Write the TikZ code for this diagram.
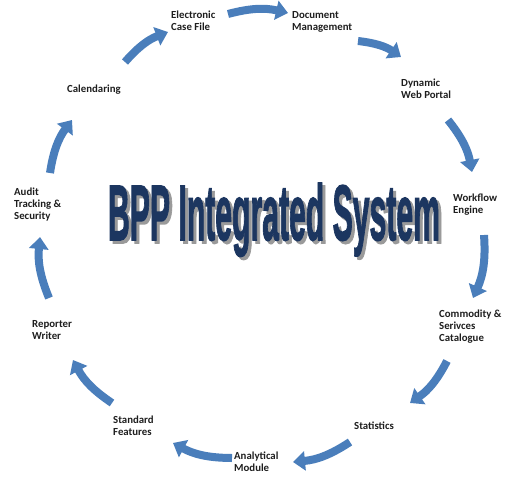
\documentclass[tikz,border=0pt]{standalone}
\usepackage{fontspec}
\setmainfont{Carlito}
\newfontfamily\titlefont{Liberation Sans Bold}[FakeBold=2]
\usetikzlibrary{arrows.meta}
\definecolor{arrowblue}{HTML}{4A7EBB}
\definecolor{titlenavy}{HTML}{1C3660}
\definecolor{titleshadow}{HTML}{9A9A9A}
\definecolor{labelgray}{HTML}{1E1E1E}
\tikzset{
  lbl/.style={anchor=base west, align=left, inner sep=0pt,
    font=\fontsize{10.8}{12}\selectfont\bfseries, text=labelgray},
  flow/.style={line width=8pt, draw=arrowblue,
    -{Triangle[width=19pt,length=12pt]}},
  titlenode/.style={anchor=base, inner sep=0pt},
}
\newcommand\mytitletext{\resizebox{332pt}{57pt}{\titlefont BPP Integrated System}}
\newcommand\mytitlewithshadow{\makebox[0pt][l]{\hspace{3pt}\raisebox{-3pt}{\color{titleshadow}\mytitletext}}{\color{titlenavy}\mytitletext}}
\begin{document}
\begin{tikzpicture}[x=1pt,y=1pt]
\useasboundingbox (0,0) rectangle (515,-480);
% title with drop shadow
\node[titlenode] (title) at (274,-240) {\mytitlewithshadow};
% labels (anchored at the baseline of the last line)
\node[lbl] (ecf) at (171,-30) {Electronic\\Case File};
\node[lbl] (dm) at (292,-30) {Document\\Management};
\node[lbl] (dwp) at (401,-98) {Dynamic\\Web Portal};
\node[lbl] (we) at (453,-213) {Workflow\\Engine};
\node[lbl] (csc) at (439,-341) {Commodity \&\\Serivces\\Catalogue};
\node[lbl] (stat) at (354,-429) {Statistics};
\node[lbl] (am) at (234,-471) {Analytical\\Module};
\node[lbl] (sf) at (113,-435) {Standard\\Features};
\node[lbl] (rw) at (32,-339) {Reporter\\Writer};
\node[lbl] (ats) at (14,-219) {Audit\\Tracking \&\\Security};
\node[lbl] (cal) at (67,-92) {Calendaring};
% arrow ends
\coordinate (a1s) at (228,-14); \coordinate (a1e) at (288,-13);
\coordinate (a2s) at (358,-41); \coordinate (a2e) at (401,-57);
\coordinate (a3s) at (448,-120); \coordinate (a3e) at (472,-172);
\coordinate (a4s) at (484,-235); \coordinate (a4e) at (473,-298);
\coordinate (a5s) at (447,-361); \coordinate (a5e) at (410,-403);
\coordinate (a6s) at (350,-442); \coordinate (a6e) at (293,-462);
\coordinate (a7s) at (232,-458); \coordinate (a7e) at (173,-443);
\coordinate (a8s) at (112,-403); \coordinate (a8e) at (73,-360);
\coordinate (a9s) at (49,-298); \coordinate (a9e) at (40,-237);
\coordinate (a10s) at (50,-173); \coordinate (a10e) at (72,-120);
\coordinate (a11s) at (125,-62); \coordinate (a11e) at (168,-32);
\foreach \i in {1,...,11} {
  \draw[flow] (a\i s) to[bend left=14] (a\i e);
}
\end{tikzpicture}
\end{document}
